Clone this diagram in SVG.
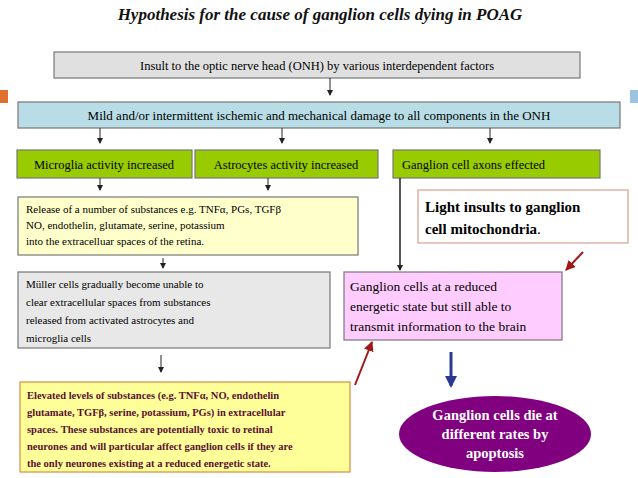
<svg xmlns="http://www.w3.org/2000/svg" width="638" height="478" viewBox="0 0 638 478">
<style>
text{font-family:Liberation Serif,Times New Roman,Tinos,DejaVu Serif,serif}
.c{text-anchor:middle}
.b{stroke:#777;stroke-width:1.2}
.l{stroke:#222;stroke-width:1}
</style>
<defs>
<marker id="a" markerWidth="6" markerHeight="6" refX="5" refY="3" orient="auto" markerUnits="userSpaceOnUse"><path d="M0,0L6,3L0,6z" fill="#222"/></marker>
<marker id="r" markerWidth="10" markerHeight="10" refX="9" refY="5" orient="auto" markerUnits="userSpaceOnUse"><path d="M0,0L10,5L0,10z" fill="#a01818"/></marker>
<marker id="bl" markerWidth="12" markerHeight="12" refX="10" refY="6" orient="auto" markerUnits="userSpaceOnUse"><path d="M0,0L12,6L0,12z" fill="#2a3a90"/></marker>
</defs>
<rect width="638" height="478" fill="#fff"/>
<text x="320" y="20" class="c" font-size="17" font-style="italic" font-weight="bold" fill="#111">Hypothesis for the cause of ganglion cells dying in POAG</text>
<rect x="0" y="90" width="8" height="13" fill="#e07030"/>
<rect x="630" y="90" width="8" height="13" fill="#9cc4e0"/>
<g id="n1"><rect x="54" y="52" width="526" height="26" fill="#e0e0e0" class="b"/><text x="317" y="70" class="c" font-size="12.5">Insult to the optic nerve head (ONH) by various interdependent factors</text></g>
<g id="n2"><rect x="18" y="102" width="602" height="26" fill="#b8dde6" class="b"/><text x="319" y="120" class="c" font-size="13">Mild and/or intermittent ischemic and mechanical damage to all components in the ONH</text></g>
<g id="n3"><rect x="17" y="150" width="175" height="28" fill="#99cc00" class="b"/><text x="104" y="169" class="c" font-size="12.5">Microglia activity increased</text></g>
<g id="n4"><rect x="195" y="150" width="183" height="28" fill="#99cc00" class="b"/><text x="286" y="169" class="c" font-size="12.5">Astrocytes activity increased</text></g>
<g id="n5"><rect x="393" y="150" width="207" height="28" fill="#99cc00" class="b"/><text x="402" y="169" font-size="12.5">Ganglion cell axons effected</text></g>
<g id="n6"><rect x="18" y="197" width="340" height="58" fill="#ffffcc" class="b"/><text font-size="11"><tspan x="26" y="213">Release of a number of substances e.g. TNFα, PGs, TGFβ</tspan><tspan x="26" y="229">NO, endothelin, glutamate, serine, potassium</tspan><tspan x="26" y="245">into the extracelluar spaces of the retina.</tspan></text></g>
<g id="n7"><rect x="18" y="272" width="312" height="76" fill="#e8e8e8" class="b"/><text font-size="11"><tspan x="26" y="288">Müller cells gradually become unable to</tspan><tspan x="26" y="306">clear extracellular spaces from substances</tspan><tspan x="26" y="324">released from activated astrocytes and</tspan><tspan x="26" y="342">microglia cells</tspan></text></g>
<g id="n8"><rect x="20" y="382" width="330" height="90" fill="#ffff99" stroke="#d09040" stroke-width="1.2"/><text font-size="10.5" font-weight="bold" fill="#5a1030"><tspan x="27" y="399">Elevated levels of substances (e.g. TNFα, NO, endothelin</tspan><tspan x="27" y="416">glutamate, TGFβ, serine, potassium, PGs)  in extracellular</tspan><tspan x="27" y="433">spaces. These substances are  potentially toxic to retinal</tspan><tspan x="27" y="450">neurones and will particular affect ganglion cells if they are</tspan><tspan x="27" y="467">the only neurones existing at a reduced energetic state.</tspan></text></g>
<g id="n9"><rect x="418" y="190" width="210" height="53" fill="#fff" stroke="#d8a090" stroke-width="1.2"/><text font-size="15" font-weight="bold"><tspan x="425" y="212">Light insults to ganglion</tspan><tspan x="425" y="234">cell mitochondria</tspan><tspan font-weight="normal">.</tspan></text></g>
<g id="n10"><rect x="344" y="272" width="218" height="68" fill="#ffccff" class="b"/><text font-size="13.5"><tspan x="350" y="291">Ganglion cells at a reduced</tspan><tspan x="350" y="311">energetic state but still able to</tspan><tspan x="350" y="331">transmit information to the brain</tspan></text></g>
<g id="n11"><ellipse cx="495" cy="434" rx="96" ry="38" fill="#800080"/><text class="c" font-size="14.5" font-weight="bold" fill="#fff"><tspan x="495" y="420">Ganglion cells die at</tspan><tspan x="495" y="439">different rates by</tspan><tspan x="495" y="458">apoptosis</tspan></text></g>
<g id="connectors" fill="none">
<line x1="330" y1="78" x2="330" y2="95" class="l" marker-end="url(#a)"/>
<line x1="100" y1="128" x2="100" y2="143" class="l" marker-end="url(#a)"/>
<line x1="282" y1="128" x2="282" y2="143" class="l" marker-end="url(#a)"/>
<line x1="490" y1="128" x2="490" y2="143" class="l" marker-end="url(#a)"/>
<line x1="100" y1="178" x2="100" y2="190" class="l" marker-end="url(#a)"/>
<line x1="268" y1="178" x2="268" y2="190" class="l" marker-end="url(#a)"/>
<line x1="163" y1="258" x2="163" y2="268" class="l" marker-end="url(#a)"/>
<line x1="161" y1="355" x2="161" y2="372" class="l" marker-end="url(#a)"/>
<line x1="400" y1="178" x2="400" y2="270" stroke="#222" stroke-width="1.5" marker-end="url(#a)"/>
<line x1="583" y1="252" x2="566" y2="270" stroke="#a01818" stroke-width="2" marker-end="url(#r)"/>
<line x1="355" y1="385" x2="372" y2="342" stroke="#a01818" stroke-width="2" marker-end="url(#r)"/>
<line x1="451" y1="352" x2="451" y2="386" stroke="#2a3a90" stroke-width="3" marker-end="url(#bl)"/>
</g>
</svg>
